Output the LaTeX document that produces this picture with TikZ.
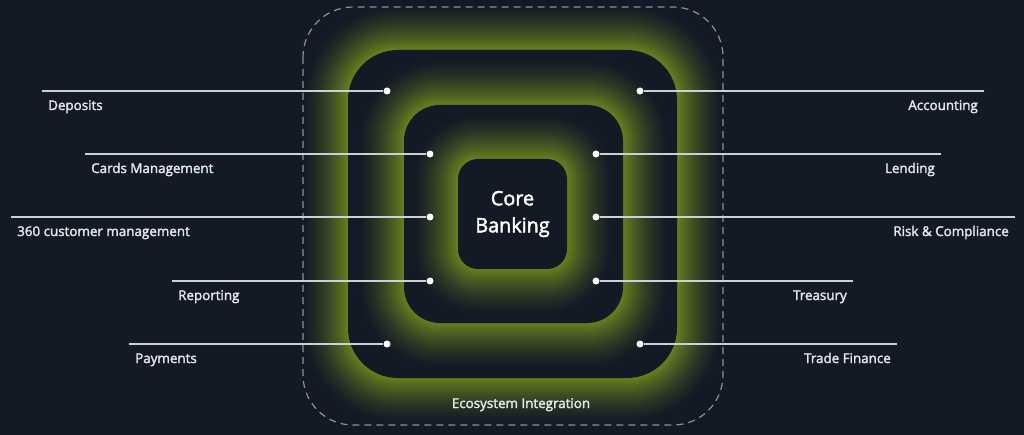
\documentclass[tikz,border=0pt]{standalone}
\usepackage{fontspec}
\setmainfont{Open Sans}
\newfontfamily\medfont{Open Sans}[FakeBold=2.2]
\definecolor{bgc}{RGB}{19,25,37}
\definecolor{glowc}{RGB}{104,132,30}
\definecolor{dashc}{RGB}{140,145,155}
\definecolor{linec}{RGB}{205,208,214}
\definecolor{txtc}{RGB}{228,230,234}
\newcommand{\glowrect}[5]{%
  \foreach \k in {26,25,...,1}{%
    \pgfmathsetmacro{\e}{\k*1.8}%
    \pgfmathsetmacro{\rr}{#5+\e}%
    \pgfmathtruncatemacro{\p}{100*(1-\k/27)^1.5}%
    \fill[glowc!\p!bgc, rounded corners=\rr pt] (#1-\e,#2-\e) rectangle (#3+\e,#4+\e);
  }%
  \fill[bgc, rounded corners=#5pt] (#1,#2) rectangle (#3,#4);
}
\tikzset{
  lbl/.style={text=txtc, font=\medfont\fontsize{13.4}{15}\selectfont, inner sep=0pt},
  conn/.style={draw=linec, line width=1.4pt},
  dot/.style={circle, fill=white, inner sep=0pt, minimum size=7pt},
}
\begin{document}
\begin{tikzpicture}[x=1pt,y=-1pt]
\useasboundingbox (0,0) rectangle (1024,435);
\fill[bgc] (0,0) rectangle (1024,435);
% glowing squares
\glowrect{348}{50}{677}{378}{50}
\glowrect{404}{105}{623}{323}{36}
\glowrect{458}{159}{567}{269}{20}
% dashed ecosystem boundary
\draw[dashc, line width=1.2pt, dash pattern=on 7pt off 5pt, rounded corners=50pt] (303,7) rectangle (723,425);
\node[text=txtc, font=\medfont\fontsize{13.4}{15}\selectfont, anchor=base] (eco) at (521,408) {Ecosystem Integration};
% core
\node[text=white, font=\medfont\fontsize{19.8}{27}\selectfont, align=center] (core) at (512.5,214) {Core\\Banking};
% left connectors
\foreach \nm/\xs/\xd/\y/\t in {dep/42/387/91/Deposits, card/85/430/154/Cards Management, cust/11/430/217/360 customer management, rep/172/430/281/Reporting, pay/129/387/344/Payments}{
  \coordinate (\nm s) at (\xs,\y);
  \node[dot] (\nm d) at (\xd,\y) {};
  \draw[conn] (\nm s) -- (\nm d);
  \node[lbl, anchor=base west] (\nm t) at (\xs+6,\y+19) {\t};
}
% right connectors
\foreach \nm/\xs/\xd/\y/\t in {acc/984/640/91/Accounting, len/941/596/154/Lending, risk/1015/596/217/Risk \& Compliance, tre/853/596/281/Treasury, trade/897/640/344/Trade Finance}{
  \coordinate (\nm s) at (\xs,\y);
  \node[dot] (\nm d) at (\xd,\y) {};
  \draw[conn] (\nm s) -- (\nm d);
  \node[lbl, anchor=base east] (\nm t) at (\xs-6,\y+19) {\t};
}
\end{tikzpicture}
\end{document}
